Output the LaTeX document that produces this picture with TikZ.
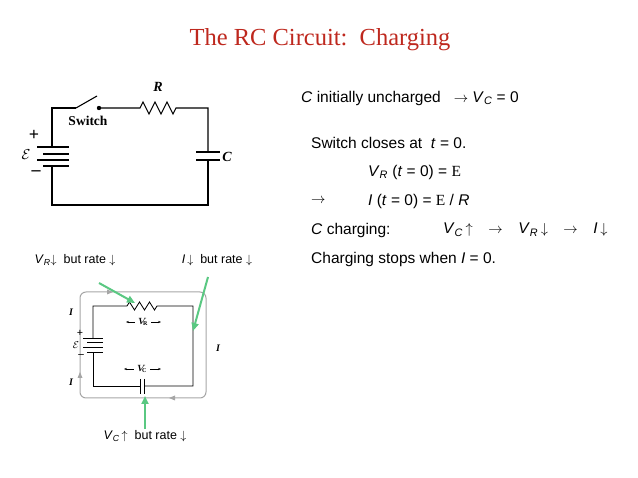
\documentclass[tikz,border=0pt]{standalone}
\usepackage{amsmath}
\usepackage{bm}
\usepackage{fontspec}
\setmainfont{Liberation Serif}
\setsansfont{Liberation Sans}
\usetikzlibrary{calc,arrows.meta,positioning}
\definecolor{titlered}{RGB}{190,40,30}
\definecolor{arrgreen}{RGB}{90,200,130}
\newcommand\sbs[1]{\textsubscript{\textit{#1}}}
\begin{document}
\begin{tikzpicture}[x=1pt,y=-1pt,
  wire/.style={line width=1.1pt},
  txt/.style={font=\sffamily\fontsize{15.5}{18}\selectfont,anchor=west,inner sep=0pt},
  small/.style={font=\sffamily\fontsize{12.5}{14}\selectfont,inner sep=1pt},
  lbl/.style={font=\bfseries\itshape\fontsize{14}{16}\selectfont,inner sep=1pt},
  ilbl/.style={font=\bfseries\itshape\fontsize{10}{12}\selectfont,inner sep=1pt},
  green/.style={-{Triangle[length=8pt,width=7pt]},arrgreen,line width=2pt},
  loop/.style={gray!70,line width=1pt,rounded corners=6pt}]

  \useasboundingbox (0,0) rectangle (638,478);

  % Title
  \node[font=\fontsize{24.5}{28}\selectfont,text=titlered] (title) at (320,40) {The RC Circuit:\ \ Charging};

  % ===== top circuit =====
  \coordinate (tl) at (52,108); \coordinate (tr) at (208,108);
  \coordinate (bl) at (52,205); \coordinate (br) at (208,205);
  \draw[wire] (52,147) -- (tl) -- (76,108);
  \draw[wire] (76,108) -- (97,96);
  \fill (99,108) circle (2.2pt);
  \draw[wire] (99,108) -- (140,108)
    -- ++(3,-6) -- ++(6,12) -- ++(6,-12) -- ++(6,12) -- ++(6,-12) -- ++(6,12) -- ++(3,-6)
    -- (tr) -- (208,152);
  \draw[wire] (196,152) -- (220,152) (196,160) -- (220,160);
  \draw[wire] (208,160) -- (br) -- (bl) -- (52,166);
  \draw[wire] (37,147) -- (69,147) (43,154) -- (69,154) (37,160) -- (69,160) (43,166) -- (69,166);
  \node[lbl] (rlab) at (158,87) {R};
  \node[lbl] (clab) at (227,157) {C};
  \node[font=\bfseries\fontsize{13.5}{15}\selectfont] (swlab) at (88,121) {Switch};
  \node[font=\bfseries\fontsize{18}{18}\selectfont] (plus) at (34,135) {+};
  \node[font=\fontsize{15}{15}\selectfont] (emf) at (26,155) {$\mathcal{E}$};
  \node[font=\bfseries\fontsize{18}{18}\selectfont] (minus) at (36,173) {--};

  % ===== bottom circuit =====
  \draw[loop] (80,292) rectangle (206,398);
  \fill[gray!70] (113,292) -- ++(-6,-2.5) -- ++(0,5) -- cycle;
  \fill[gray!70] (169,398) -- ++(6,-2.5) -- ++(0,5) -- cycle;
  \fill[gray!70] (80,372) -- ++(-2.5,6) -- ++(5,0) -- cycle;
  \draw[wire,line width=0.8pt] (93,338) -- (93,306) -- (127,306)
    -- ++(2.5,-4) -- ++(5,8) -- ++(5,-8) -- ++(5,8) -- ++(5,-8) -- ++(5,8) -- ++(2.5,-4)
    -- (193,306) -- (193,386) -- (144,386);
  \draw[wire,line width=0.8pt] (140,386) -- (93,386) -- (93,352);
  \draw[line width=0.8pt] (140,379) -- (140,394) (144,379) -- (144,394);
  \draw[line width=0.8pt] (83,338) -- (103,338) (87,342) -- (103,342) (83,347) -- (103,347) (87,352) -- (103,352);
  \node[font=\fontsize{9}{10}\selectfont] (vr) at (143,322) {$\bm{V}_{\!\mathbf R}$};
  \draw[-{Stealth[length=3pt]},line width=0.5pt] (vr.west) -- (126,322);
  \draw[-{Stealth[length=3pt]},line width=0.5pt] (vr.east) -- (161,322);
  \node[font=\fontsize{9}{10}\selectfont] (vc) at (142,369) {$\bm{V}_{\!\mathbf C}$};
  \draw[-{Stealth[length=3pt]},line width=0.5pt] (vc.west) -- (124,369);
  \draw[-{Stealth[length=3pt]},line width=0.5pt] (vc.east) -- (161,369);
  \node[ilbl] (i1) at (71,312) {I};
  \node[ilbl] (i2) at (71,382) {I};
  \node[ilbl] (i3) at (218,348) {I};
  \node[font=\bfseries\fontsize{11}{11}\selectfont] (plus2) at (80,333) {+};
  \node[font=\fontsize{10}{10}\selectfont] (emf2) at (76,345) {$\mathcal{E}$};
  \node[font=\bfseries\fontsize{11}{11}\selectfont] (minus2) at (81,356) {--};

  % green pointers
  \node[small] (note1) at (75,260) {\textit{V}\sbs{R}$\downarrow$\ \ but rate $\downarrow$};
  \node[small] (note2) at (217,260) {\textit{I}$\,\downarrow$\ \ but rate $\downarrow$};
  \node[small] (note3) at (145,436) {\textit{V}\sbs{C}$\,\uparrow$\ \ but rate $\downarrow$};
  \coordinate (t1) at (135,303); \coordinate (t2) at (193,331); \coordinate (t3) at (145,396);
  \draw[green] (99,283) -- (t1);
  \draw[green] (208,277) -- (t2);
  \draw[green] (note3.north) -- (t3);

  % ===== text =====
  \node[txt] (l1) at (301,98) {\textit{C} initially uncharged\ \ \ $\rightarrow$\ \textit{V}\sbs{C} = 0};
  \node[txt] (l2) at (311,143) {Switch closes at\ \ \textit{t} = 0.};
  \node[txt] (l3) at (368,172) {\textit{V}\sbs{R} (\textit{t} = 0) = {\rmfamily E}};
  \node[txt] (l4a) at (311,201) {$\rightarrow$};
  \node[txt] (l4) at (368,201) {\textit{I} (\textit{t} = 0) = {\rmfamily E} / \textit{R}};
  \node[txt] (l5a) at (311,230) {\textit{C} charging:};
  \node[txt] (l5) at (443,230) {\textit{V}\sbs{C}\,$\uparrow$\quad$\rightarrow$\quad\textit{V}\sbs{R}\,$\downarrow$\quad$\rightarrow$\quad\textit{I}\,$\downarrow$};
  \node[txt] (l6) at (311,259) {Charging stops when \textit{I} = 0.};
\end{tikzpicture}
\end{document}
